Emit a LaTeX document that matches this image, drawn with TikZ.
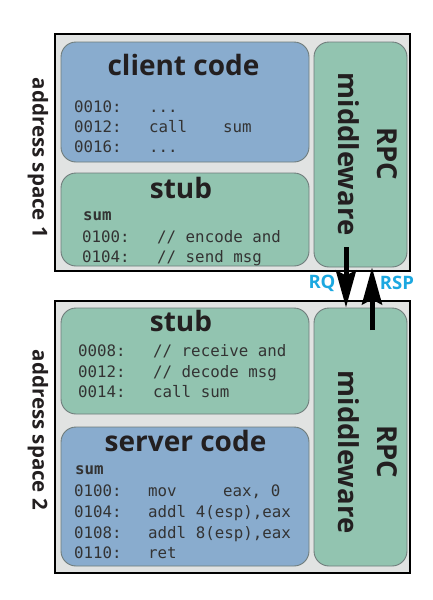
\documentclass[tikz,border=0pt]{standalone}
\usepackage{fontspec}
\setmainfont{Open Sans}
\newfontfamily\codefont{DejaVu Sans Mono}
\usetikzlibrary{arrows.meta}
\definecolor{bgray}{HTML}{E1E3E2}
\definecolor{cblue}{HTML}{89ACCE}
\definecolor{cgreen}{HTML}{92C4B0}
\definecolor{bord}{HTML}{6F7C7B}
\definecolor{txt}{HTML}{231F20}
\definecolor{codec}{HTML}{333333}
\definecolor{cyanl}{HTML}{1CA8E0}
\tikzset{
  asbox/.style={draw=black, line width=1.3pt, fill=bgray, inner sep=0pt},
  bluebox/.style={draw=bord, line width=0.9pt, fill=cblue, rounded corners=15pt, inner sep=0pt},
  greenbox/.style={draw=bord, line width=0.9pt, fill=cgreen, rounded corners=15pt, inner sep=0pt},
  title/.style={font=\fontsize{28}{30}\selectfont\bfseries, text=txt, anchor=base, inner sep=0pt},
  side/.style={font=\fontsize{20.5}{24}\selectfont\bfseries, text=txt, rotate=-90, inner sep=0pt},
  mwtext/.style={font=\fontsize{27.5}{39}\selectfont\bfseries, text=txt, rotate=-90, align=center, inner sep=0pt},
  code/.style={font=\codefont\fontsize{15.8}{18}\selectfont, text=codec, anchor=base west, inner sep=0pt},
  codeb/.style={code, font=\codefont\fontsize{15.8}{18}\selectfont\bfseries},
  bigarrow/.style={line width=5pt, -{Stealth[length=37pt, width=20pt, inset=5pt]}},
  lbl/.style={font=\fontsize{18.5}{22}\selectfont\bfseries, text=cyanl, inner sep=0pt}
}
\begin{document}
\begin{tikzpicture}[x=1pt,y=-1pt]
\useasboundingbox (0,0) rectangle (432,600);
% address spaces
\node[asbox, minimum width=355pt, minimum height=237pt] (as1) at (232.5,152.5) {};
\node[asbox, minimum width=355pt, minimum height=272pt] (as2) at (232.5,437) {};
\node[side] (as1l) at (38,158) {address space 1};
\node[side] (as2l) at (38,430) {address space 2};
% boxes
\node[bluebox, minimum width=248pt, minimum height=120pt] (client) at (185,102) {};
\node[greenbox, minimum width=248pt, minimum height=93pt] (stub1) at (185,219.5) {};
\node[greenbox, minimum width=93pt, minimum height=225pt] (mw1) at (360.5,154.5) {};
\node[greenbox, minimum width=248pt, minimum height=106pt] (stub2) at (185,361) {};
\node[bluebox, minimum width=248pt, minimum height=139pt] (server) at (185,496.5) {};
\node[greenbox, minimum width=93pt, minimum height=258pt] (mw2) at (360.5,437) {};
% titles
\node[title] (t1) at (183.5,75.5) {client code};
\node[title] (t2) at (181,198) {stub};
\node[title] (t3) at (181,331.5) {stub};
\node[title] (t4) at (185.5,451.5) {server code};
\node[mwtext] (m1) at (368,154) {RPC\\middleware};
\node[mwtext] (m2) at (368,452) {RPC\\middleware};
% client code
\node[code] (c1) at (74,112) {0010:};
\node[code] (c1i) at (149,112) {...};
\node[code] (c2) at (74,132.7) {0012:};
\node[code] (c2i) at (149,132.7) {call};
\node[code] (c2s) at (223,132.7) {sum};
\node[code] (c3) at (74,152.7) {0016:};
\node[code] (c3i) at (149,152.7) {...};
% stub 1
\node[codeb] (s1h) at (83,220) {sum};
\node[code] (s1a) at (82,242.7) {0100:};
\node[code] (s1ai) at (157,242.7) {// encode and};
\node[code] (s1b) at (82,262.7) {0104:};
\node[code] (s1bi) at (157,262.7) {// send msg};
% stub 2
\node[code] (s2a) at (78,356) {0008:};
\node[code] (s2ai) at (153,356) {// receive and};
\node[code] (s2b) at (78,377.7) {0012:};
\node[code] (s2bi) at (153,377.7) {// decode msg};
\node[code] (s2c) at (78,397.7) {0014:};
\node[code] (s2ci) at (153,397.7) {call sum};
% server code
\node[codeb] (svh) at (75,474) {sum};
\node[code] (sva) at (74,496) {0100:};
\node[code] (svai) at (148,496) {mov};
\node[code] (svaj) at (223,496) {eax, 0};
\node[code] (svb) at (74,517) {0104:};
\node[code] (svbi) at (148,517) {addl 4(esp),eax};
\node[code] (svc) at (74,538.7) {0108:};
\node[code] (svci) at (148,538.7) {addl 8(esp),eax};
\node[code] (svd) at (74,558.7) {0110:};
\node[code] (svdi) at (148,558.7) {ret};
% arrows
\coordinate (rqs) at (346,247);
\coordinate (rsps) at (372,330);
\draw[bigarrow] (rqs) -- (rqs |- mw2.north);
\draw[bigarrow] (rsps) -- (rsps |- mw1.south);
\node[lbl] (rq) at (322,283) {RQ};
\node[lbl] (rsp) at (397,283) {RSP};
\end{tikzpicture}
\end{document}
